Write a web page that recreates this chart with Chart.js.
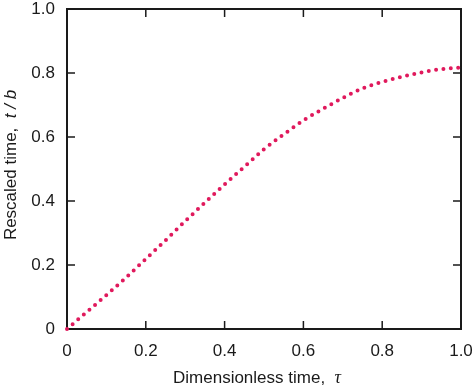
<!DOCTYPE html>
<html>
<head>
<meta charset="utf-8">
<script src="https://cdn.jsdelivr.net/npm/chart.js@4.4.1/dist/chart.umd.min.js"></script>
<style>
  html, body { margin: 0; padding: 0; background: #fff; }
  #wrap { width: 474px; height: 387px; }
</style>
</head>
<body>
<div id="wrap"><canvas id="chart"></canvas></div>
<script>
// --- data ---
var tau = [0, 0.05, 0.1, 0.15, 0.2, 0.25, 0.3, 0.35, 0.4, 0.45, 0.5,
           0.55, 0.6, 0.65, 0.7, 0.75, 0.8, 0.85, 0.9, 0.95, 1.0];
var rescaled = [0, 0.053, 0.106, 0.161, 0.219, 0.277, 0.337, 0.395, 0.452, 0.507, 0.562,
                0.608, 0.652, 0.688, 0.722, 0.752, 0.772, 0.788, 0.802, 0.812, 0.817];
var xTicks = [0, 0.2, 0.4, 0.6, 0.8, 1.0];
var yTicks = [0, 0.2, 0.4, 0.6, 0.8, 1.0];

var INK = '#1a1a1a';
var FONT = '"Liberation Sans", Arial, sans-serif';

function fmt(v) { return v === 0 ? '0' : v.toFixed(1); }

// frame, inward ticks on all four sides, axis titles with italic symbols
var framePlugin = {
  id: 'frame',
  beforeDatasetsDraw: function (chart) {
    var ctx = chart.ctx, a = chart.chartArea;
    var xs = chart.scales.x, ys = chart.scales.y;
    var tl = 8;
    ctx.save();
    ctx.strokeStyle = INK;
    ctx.lineWidth = 2;
    ctx.strokeRect(a.left, a.top, a.right - a.left, a.bottom - a.top);
    ctx.lineWidth = 1.5;
    ctx.beginPath();
    xTicks.forEach(function (v) {
      var px = xs.getPixelForValue(v);
      ctx.moveTo(px, a.bottom); ctx.lineTo(px, a.bottom - tl);
      ctx.moveTo(px, a.top); ctx.lineTo(px, a.top + tl);
    });
    yTicks.forEach(function (v) {
      var py = ys.getPixelForValue(v);
      ctx.moveTo(a.left, py); ctx.lineTo(a.left + tl, py);
      ctx.moveTo(a.right, py); ctx.lineTo(a.right - tl, py);
    });
    ctx.stroke();
    ctx.restore();
  },
  afterDraw: function (chart) {
    var ctx = chart.ctx;
    ctx.save();
    ctx.fillStyle = INK;
    ctx.textBaseline = 'alphabetic';
    ctx.textAlign = 'left';

    // x title
    var xParts = [
      { t: 'Dimensionless time,  ', f: '17px ' + FONT },
      { t: '\u03C4', f: 'italic 18px "Liberation Serif", serif' }
    ];
    drawParts(ctx, xParts, 257, 383);

    // y title (rotated)
    ctx.translate(16, 165);
    ctx.rotate(-Math.PI / 2);
    var yParts = [
      { t: 'Rescaled time,  ', f: '17px ' + FONT },
      { t: 't / b', f: 'italic 17px ' + FONT }
    ];
    drawParts(ctx, yParts, 0, 0);
    ctx.restore();
  }
};

function drawParts(ctx, parts, cx, y) {
  var total = 0;
  parts.forEach(function (p) { ctx.font = p.f; p.w = ctx.measureText(p.t).width; total += p.w; });
  var x = cx - total / 2;
  parts.forEach(function (p) { ctx.font = p.f; ctx.fillText(p.t, x, y); x += p.w; });
}

var points = tau.map(function (t, i) { return { x: t, y: rescaled[i] }; });

new Chart(document.getElementById('chart'), {
  type: 'line',
  data: {
    datasets: [{
      data: points,
      borderColor: '#e0195c',
      borderWidth: 4,
      borderDash: [0, 7.4],
      borderCapStyle: 'round',
      cubicInterpolationMode: 'monotone',
      pointRadius: 0,
      fill: false,
      clip: false
    }]
  },
  options: {
    responsive: true,
    maintainAspectRatio: false,
    animation: false,
    events: [],
    layout: { padding: { top: 9, right: 13, left: 0, bottom: 0 } },
    plugins: { legend: { display: false }, tooltip: { enabled: false } },
    scales: {
      x: {
        type: 'linear', min: 0, max: 1,
        afterBuildTicks: function (s) { s.ticks = xTicks.map(function (v) { return { value: v }; }); },
        afterFit: function (s) { s.height = 58; s.paddingLeft = 0; s.paddingRight = 0; },
        grid: { display: true, drawOnChartArea: false, drawTicks: false },
        border: { display: false },
        ticks: { padding: 12, color: INK, font: { family: FONT, size: 17 }, maxRotation: 0,
                 callback: function (v) { return fmt(v); } }
      },
      y: {
        type: 'linear', min: 0, max: 1,
        afterBuildTicks: function (s) { s.ticks = yTicks.map(function (v) { return { value: v }; }); },
        afterFit: function (s) { s.width = 67; s.paddingTop = 0; s.paddingBottom = 0; },
        grid: { display: true, drawOnChartArea: false, drawTicks: false },
        border: { display: false },
        ticks: { padding: 12, color: INK, font: { family: FONT, size: 17 },
                 callback: function (v) { return fmt(v); } }
      }
    }
  },
  plugins: [framePlugin]
});
</script>
</body>
</html>
